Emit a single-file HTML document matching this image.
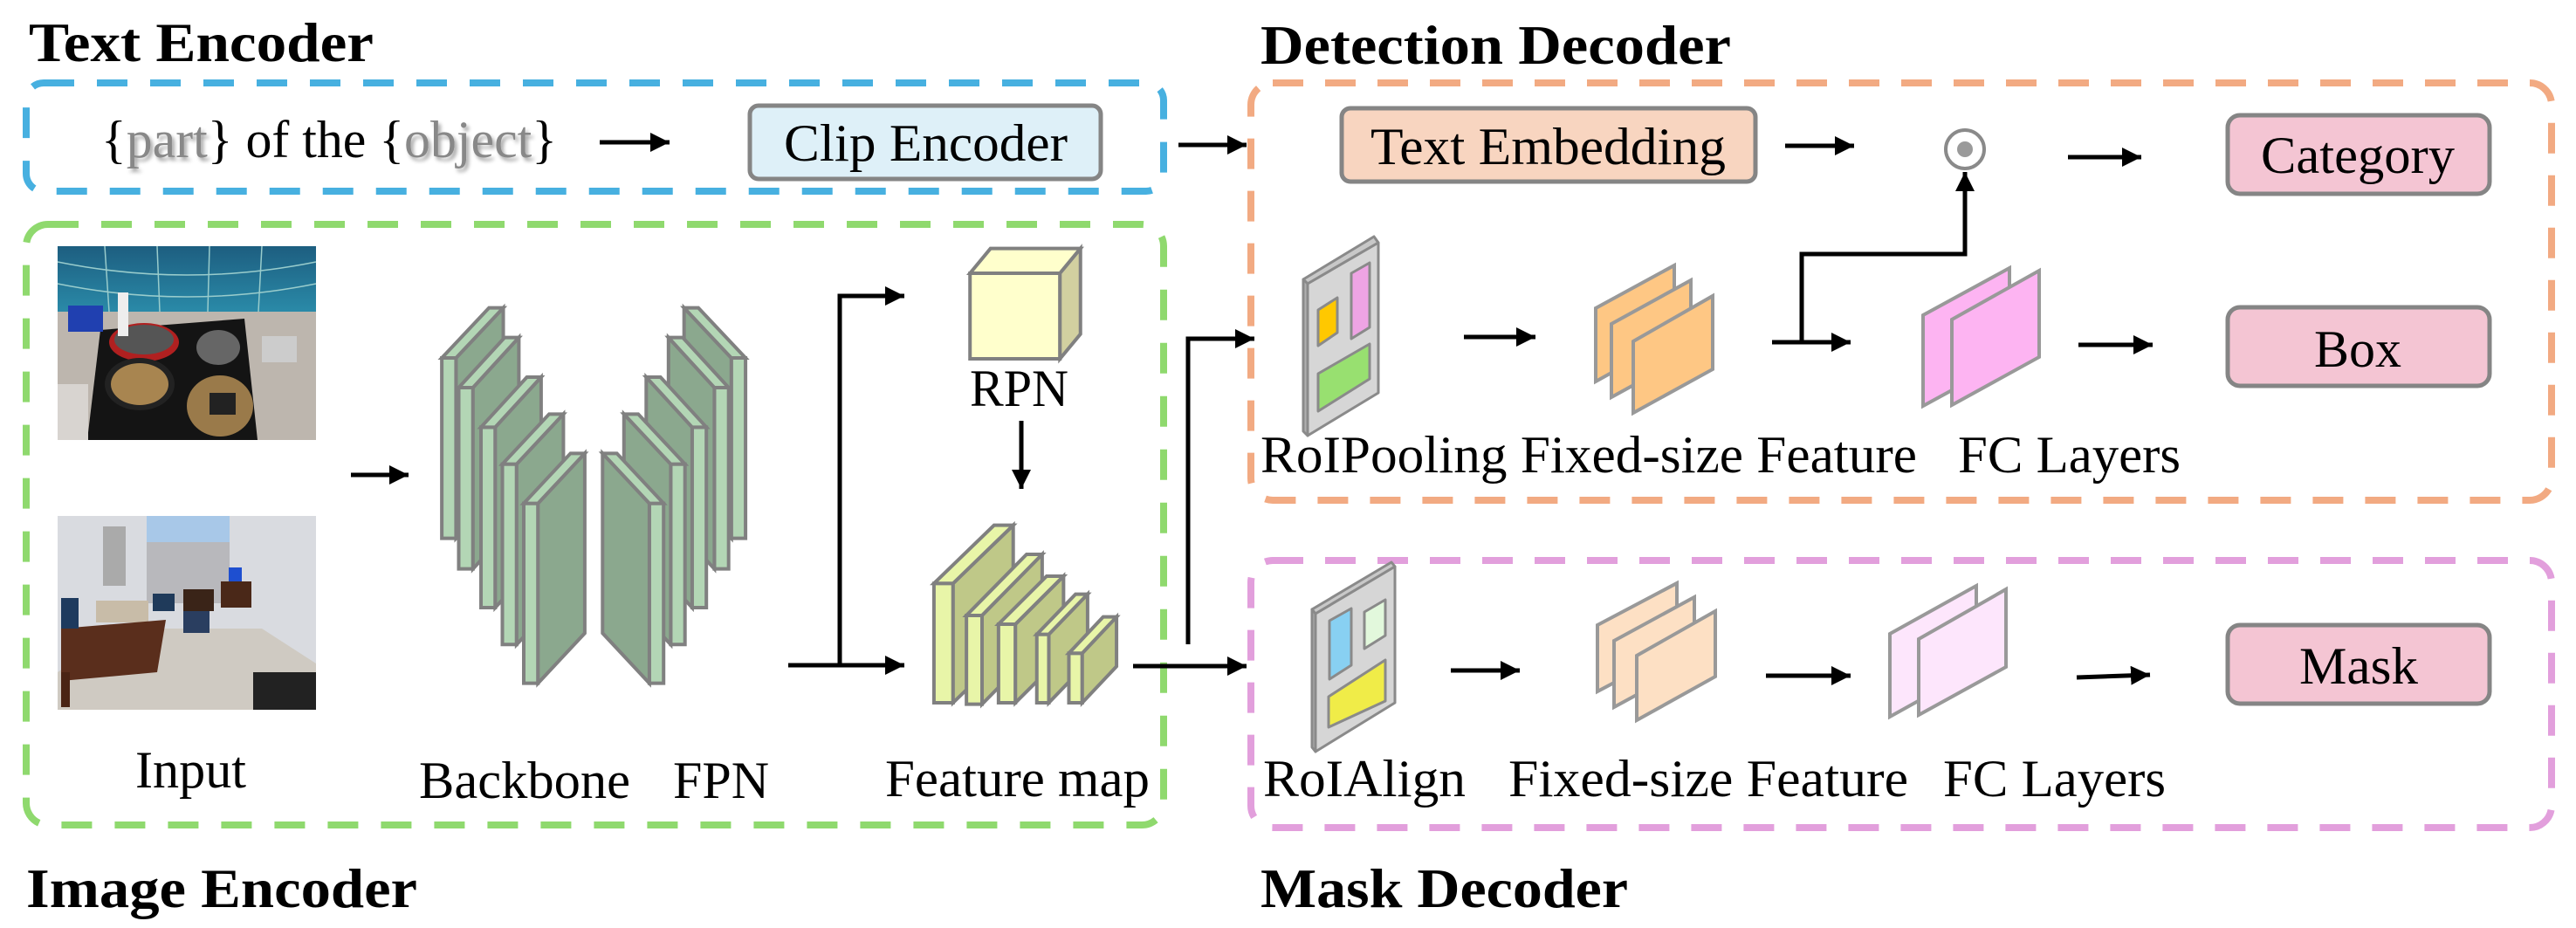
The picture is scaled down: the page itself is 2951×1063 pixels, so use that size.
<!DOCTYPE html>
<html><head><meta charset="utf-8"><style>
html,body{margin:0;padding:0;background:#fff;}
svg{display:block;}
text{font-family:"Liberation Serif",serif;fill:#000;}
.t{font-weight:bold;font-size:64px;}
.l{font-size:60px;}
</style></head><body>
<svg width="2951" height="1063" viewBox="0 0 2951 1063" xmlns="http://www.w3.org/2000/svg">
<defs>
<marker id="ah" markerUnits="userSpaceOnUse" markerWidth="24" markerHeight="24" refX="22" refY="11" orient="auto">
<path d="M0,0 L22,11 L0,22 z" fill="#000"/>
</marker>
<filter id="sh" x="-10%" y="-10%" width="130%" height="130%"><feDropShadow dx="3" dy="4" stdDeviation="2" flood-color="#000" flood-opacity="0.35"/></filter>
<linearGradient id="tile" x1="0" y1="0" x2="0" y2="1"><stop offset="0" stop-color="#1d5e80"/><stop offset="1" stop-color="#2a8aa8"/></linearGradient>
<g id="bb">
<rect x="12" y="210" width="32" height="620" fill="#b3d6b5" stroke="#808080" stroke-width="4" vector-effect="non-scaling-stroke"/>
<polygon points="44,210 150,38 150,658 44,830" fill="#8ba88e" stroke="#808080" stroke-width="4" vector-effect="non-scaling-stroke"/>
<polygon points="12,210 118,38 150,38 44,210" fill="#b3d6b5" stroke="#808080" stroke-width="4" vector-effect="non-scaling-stroke"/>
<rect x="50" y="312" width="32" height="623" fill="#b3d6b5" stroke="#808080" stroke-width="4" vector-effect="non-scaling-stroke"/>
<polygon points="82,312 185,140 185,763 82,935" fill="#8ba88e" stroke="#808080" stroke-width="4" vector-effect="non-scaling-stroke"/>
<polygon points="50,312 153,140 185,140 82,312" fill="#b3d6b5" stroke="#808080" stroke-width="4" vector-effect="non-scaling-stroke"/>
<rect x="100" y="448" width="32" height="620" fill="#b3d6b5" stroke="#808080" stroke-width="4" vector-effect="non-scaling-stroke"/>
<polygon points="132,448 235,276 235,896 132,1068" fill="#8ba88e" stroke="#808080" stroke-width="4" vector-effect="non-scaling-stroke"/>
<polygon points="100,448 203,276 235,276 132,448" fill="#b3d6b5" stroke="#808080" stroke-width="4" vector-effect="non-scaling-stroke"/>
<rect x="148" y="575" width="32" height="620" fill="#b3d6b5" stroke="#808080" stroke-width="4" vector-effect="non-scaling-stroke"/>
<polygon points="180,575 285,403 285,1023 180,1195" fill="#8ba88e" stroke="#808080" stroke-width="4" vector-effect="non-scaling-stroke"/>
<polygon points="148,575 253,403 285,403 180,575" fill="#b3d6b5" stroke="#808080" stroke-width="4" vector-effect="non-scaling-stroke"/>
<rect x="196" y="710" width="32" height="618" fill="#b3d6b5" stroke="#808080" stroke-width="4" vector-effect="non-scaling-stroke"/>
<polygon points="228,710 333,538 333,1156 228,1328" fill="#8ba88e" stroke="#808080" stroke-width="4" vector-effect="non-scaling-stroke"/>
<polygon points="196,710 301,538 333,538 228,710" fill="#b3d6b5" stroke="#808080" stroke-width="4" vector-effect="non-scaling-stroke"/>
</g>
</defs>

<text class="t" x="33" y="70" textLength="395" lengthAdjust="spacingAndGlyphs">Text Encoder</text>
<text class="t" x="30" y="1039" textLength="448" lengthAdjust="spacingAndGlyphs">Image Encoder</text>
<text class="t" x="1444" y="73" textLength="539" lengthAdjust="spacingAndGlyphs">Detection Decoder</text>
<text class="t" x="1444" y="1039" textLength="421" lengthAdjust="spacingAndGlyphs">Mask Decoder</text>

<rect x="30" y="95" width="1303" height="124" rx="20" fill="none" stroke="#47b0e0" stroke-width="8" stroke-dasharray="35 26"/>
<rect x="30" y="257" width="1303" height="688" rx="25" fill="none" stroke="#8fd96e" stroke-width="8" stroke-dasharray="35 26"/>
<rect x="1433" y="95" width="1490" height="478" rx="25" fill="none" stroke="#f2aa82" stroke-width="8" stroke-dasharray="35 25"/>
<rect x="1433" y="642" width="1490" height="306" rx="25" fill="none" stroke="#e29fdc" stroke-width="8" stroke-dasharray="35 25"/>

<text class="l" x="116" y="180" textLength="522" lengthAdjust="spacingAndGlyphs">{<tspan fill="#888" filter="url(#sh)">part</tspan>} of the {<tspan fill="#888" filter="url(#sh)">object</tspan>}</text>
<rect x="859" y="121" width="402" height="84" rx="10" fill="#def0f8" stroke="#858585" stroke-width="5"/>
<text class="l" x="898" y="184" textLength="325" lengthAdjust="spacingAndGlyphs">Clip Encoder</text>

<g>
<rect x="66" y="282" width="296" height="222" fill="#bdb6ae"/>
<rect x="66" y="282" width="296" height="75" fill="url(#tile)"/>
<path d="M66,300 Q214,330 362,300 M66,325 Q214,355 362,325 M120,282 L125,357 M180,282 L183,357 M240,282 L238,357 M300,282 L296,357" stroke="#9cc" stroke-width="1.5" fill="none"/>
<polygon points="115,378 280,365 295,504 100,504" fill="#141414"/>
<ellipse cx="165" cy="392" rx="40" ry="22" fill="#b02020"/>
<ellipse cx="165" cy="389" rx="34" ry="17" fill="#555"/>
<ellipse cx="160" cy="440" rx="40" ry="30" fill="#222"/>
<ellipse cx="160" cy="440" rx="33" ry="24" fill="#a88550"/>
<ellipse cx="252" cy="465" rx="38" ry="35" fill="#9a7a4a"/>
<rect x="240" y="450" width="30" height="25" fill="#222"/>
<ellipse cx="250" cy="398" rx="25" ry="20" fill="#666"/>
<rect x="78" y="350" width="40" height="30" fill="#2040b0"/>
<rect x="135" y="335" width="12" height="50" fill="#eee"/>
<rect x="300" y="385" width="40" height="30" fill="#ccc"/>
<rect x="66" y="440" width="35" height="64" fill="#d8d4d0"/>
</g>
<g>
<rect x="66" y="591" width="296" height="222" fill="#d9dbe0"/>
<rect x="168" y="591" width="95" height="30" fill="#a8c8e8"/>
<rect x="168" y="621" width="95" height="70" fill="#b8b8bc"/>
<rect x="118" y="603" width="26" height="68" fill="#aaa"/>
<polygon points="66,770 66,813 362,813 362,760 300,720 140,720" fill="#cfcac2"/>
<rect x="110" y="688" width="60" height="25" fill="#c8bca8"/>
<polygon points="70,720 190,710 180,770 70,780" fill="#5a2e1c"/>
<rect x="70" y="770" width="10" height="40" fill="#4a2414"/>
<rect x="175" y="680" width="25" height="20" fill="#1f3a5a"/>
<rect x="210" y="695" width="30" height="30" fill="#2a3e60"/>
<rect x="262" y="650" width="15" height="25" fill="#1e4fd0"/>
<rect x="253" y="666" width="35" height="30" fill="#4a2818"/>
<rect x="210" y="675" width="35" height="25" fill="#3a2418"/>
<rect x="290" y="770" width="72" height="43" fill="#222"/>
<rect x="70" y="685" width="20" height="35" fill="#1e3a5e"/>
</g>

<g transform="translate(500,340) scale(0.5102,0.3333)">
<use href="#bb"/>
<use href="#bb" transform="translate(706,0) scale(-1,1)"/>
<rect x="1198" y="-81" width="202" height="294" fill="#ffffcc" stroke="#808080" stroke-width="4" vector-effect="non-scaling-stroke"/>
<polygon points="1198,-81 1244,-166 1446,-166 1400,-81" fill="#ffffcc" stroke="#808080" stroke-width="4" vector-effect="non-scaling-stroke"/>
<polygon points="1400,-81 1446,-166 1446,128 1400,213" fill="#d2d0a0" stroke="#808080" stroke-width="4" vector-effect="non-scaling-stroke"/>
<g stroke="#808080" stroke-width="4">
<rect x="1117" y="985" width="43" height="410" fill="#e8f5a8" vector-effect="non-scaling-stroke"/>
<polygon points="1160,985 1295,785 1295,1195 1160,1395" fill="#bfc888" vector-effect="non-scaling-stroke"/>
<polygon points="1117,985 1252,785 1295,785 1160,985" fill="#e8f5a8" vector-effect="non-scaling-stroke"/>
<rect x="1190" y="1095" width="35" height="305" fill="#e8f5a8" vector-effect="non-scaling-stroke"/>
<polygon points="1225,1095 1360,885 1360,1190 1225,1400" fill="#bfc888" vector-effect="non-scaling-stroke"/>
<polygon points="1190,1095 1325,885 1360,885 1225,1095" fill="#e8f5a8" vector-effect="non-scaling-stroke"/>
<rect x="1262" y="1125" width="38" height="270" fill="#e8f5a8" vector-effect="non-scaling-stroke"/>
<polygon points="1300,1125 1408,960 1408,1230 1300,1395" fill="#bfc888" vector-effect="non-scaling-stroke"/>
<polygon points="1262,1125 1370,960 1408,960 1300,1125" fill="#e8f5a8" vector-effect="non-scaling-stroke"/>
<rect x="1348" y="1160" width="27" height="235" fill="#e8f5a8" vector-effect="non-scaling-stroke"/>
<polygon points="1375,1160 1462,1022 1462,1257 1375,1395" fill="#bfc888" vector-effect="non-scaling-stroke"/>
<polygon points="1348,1160 1435,1022 1462,1022 1375,1160" fill="#e8f5a8" vector-effect="non-scaling-stroke"/>
<rect x="1420" y="1225" width="30" height="170" fill="#e8f5a8" vector-effect="non-scaling-stroke"/>
<polygon points="1450,1225 1527,1100 1527,1270 1450,1395" fill="#bfc888" vector-effect="non-scaling-stroke"/>
<polygon points="1420,1225 1497,1100 1527,1100 1450,1225" fill="#e8f5a8" vector-effect="non-scaling-stroke"/>
</g>
</g>

<text class="l" x="1111" y="465" textLength="113" lengthAdjust="spacingAndGlyphs">RPN</text>
<text class="l" x="155" y="902" textLength="127" lengthAdjust="spacingAndGlyphs">Input</text>
<text class="l" x="480" y="914" textLength="242" lengthAdjust="spacingAndGlyphs">Backbone</text>
<text class="l" x="771" y="914" textLength="110" lengthAdjust="spacingAndGlyphs">FPN</text>
<text class="l" x="1014" y="912" textLength="303" lengthAdjust="spacingAndGlyphs">Feature map</text>

<rect x="1537" y="124" width="474" height="84" rx="10" fill="#f8d5c0" stroke="#858585" stroke-width="5"/>
<text class="l" x="1570" y="188" textLength="407" lengthAdjust="spacingAndGlyphs">Text Embedding</text>
<circle cx="2251" cy="171" r="22" fill="#fff" stroke="#8a8a8a" stroke-width="4"/>
<circle cx="2251" cy="171" r="9" fill="#9a9a9a"/>
<rect x="2552" y="132" width="300" height="90" rx="14" fill="#f4c5d3" stroke="#858585" stroke-width="5"/>
<text class="l" x="2590" y="198" textLength="222" lengthAdjust="spacingAndGlyphs">Category</text>
<rect x="2552" y="352" width="300" height="90" rx="14" fill="#f4c5d3" stroke="#858585" stroke-width="5"/>
<text class="l" x="2651" y="420" textLength="100" lengthAdjust="spacingAndGlyphs">Box</text>
<rect x="2552" y="716" width="300" height="90" rx="14" fill="#f4c5d3" stroke="#858585" stroke-width="5"/>
<text class="l" x="2634" y="783" textLength="136" lengthAdjust="spacingAndGlyphs">Mask</text>

<g stroke="#8a8a8a" stroke-width="3" stroke-linejoin="round">
<polygon points="1493,320 1574,271 1579,278 1498,325" fill="#c8c8c8"/>
<polygon points="1493,320 1498,325 1498,499 1493,494" fill="#b0b0b0"/>
<polygon points="1498,325 1579,278 1579,450 1498,499" fill="#d6d6d6"/>
<polygon points="1510,355 1532,341 1532,381 1510,396" fill="#ffc800"/>
<polygon points="1548,313 1569,301 1569,375 1548,388" fill="#eea4e4"/>
<polygon points="1510,428 1569,394 1569,434 1510,471" fill="#98e070"/>
</g>
<g stroke="#8a8a8a" stroke-width="3" stroke-linejoin="round">
<polygon points="1503,698 1594,644 1598,649 1507,703" fill="#c8c8c8"/>
<polygon points="1503,698 1507,703 1507,861 1503,856" fill="#b0b0b0"/>
<polygon points="1507,703 1598,649 1598,805 1507,861" fill="#d6d6d6"/>
<polygon points="1523,711 1548,697 1548,762 1523,778" fill="#88d0f2"/>
<polygon points="1563,701 1587,687 1587,728 1563,743" fill="#e2f8dc"/>
<polygon points="1522,798 1587,756 1587,803 1522,833" fill="#f0ec48"/>
</g>

<g stroke="#999" stroke-width="4" stroke-linejoin="miter">
<polygon points="1828,353 1918,304 1918,387 1828,437" fill="#fec784"/>
<polygon points="1846,371 1937,321 1937,405 1846,455" fill="#fec784"/>
<polygon points="1871,391 1962,339 1962,423 1871,473" fill="#fec784"/>
<polygon points="2203,361 2302,307 2302,411 2203,465" fill="#fdb4f2"/>
<polygon points="2236,366 2336,310 2336,409 2236,464" fill="#fdb4f2"/>
<polygon points="1830,716 1921,668 1921,744 1830,792" fill="#fde0c4"/>
<polygon points="1849,734 1941,684 1941,760 1849,810" fill="#fde0c4"/>
<polygon points="1875,751 1965,700 1965,775 1875,825" fill="#fde0c4"/>
<polygon points="2165,726 2264,671 2264,766 2165,821" fill="#fde6fc"/>
<polygon points="2198,732 2298,675 2298,764 2198,819" fill="#fde6fc"/>
</g>

<text class="l" x="1444" y="541" textLength="752" lengthAdjust="spacingAndGlyphs">RoIPooling Fixed-size Feature</text>
<text class="l" x="2243" y="541" textLength="255" lengthAdjust="spacingAndGlyphs">FC Layers</text>
<text class="l" x="1447" y="912" textLength="232" lengthAdjust="spacingAndGlyphs">RoIAlign</text>
<text class="l" x="1728" y="912" textLength="458" lengthAdjust="spacingAndGlyphs">Fixed-size Feature</text>
<text class="l" x="2226" y="912" textLength="255" lengthAdjust="spacingAndGlyphs">FC Layers</text>

<g stroke="#000" stroke-width="5" fill="none">
<line x1="687" y1="163" x2="767" y2="163" marker-end="url(#ah)"/>
<line x1="1350" y1="166" x2="1428" y2="166" marker-end="url(#ah)"/>
<line x1="402" y1="544" x2="468" y2="544" marker-end="url(#ah)"/>
<line x1="903" y1="762" x2="1036" y2="762" marker-end="url(#ah)"/>
<polyline points="962,762 962,339 1036,339" marker-end="url(#ah)"/>
<line x1="1170" y1="482" x2="1170" y2="560" marker-end="url(#ah)"/>
<line x1="1298" y1="763" x2="1428" y2="763" marker-end="url(#ah)"/>
<polyline points="1361,738 1361,388 1437,388" marker-end="url(#ah)"/>
<line x1="2045" y1="167" x2="2124" y2="167" marker-end="url(#ah)"/>
<line x1="2369" y1="180" x2="2453" y2="180" marker-end="url(#ah)"/>
<line x1="1677" y1="386" x2="1759" y2="386" marker-end="url(#ah)"/>
<line x1="2030" y1="392" x2="2120" y2="392" marker-end="url(#ah)"/>
<polyline points="2064,392 2064,291 2251,291 2251,197" marker-end="url(#ah)"/>
<line x1="2381" y1="395" x2="2466" y2="395" marker-end="url(#ah)"/>
<line x1="1662" y1="768" x2="1741" y2="768" marker-end="url(#ah)"/>
<line x1="2023" y1="774" x2="2120" y2="774" marker-end="url(#ah)"/>
<line x1="2379" y1="776" x2="2463" y2="773" marker-end="url(#ah)"/>
</g>
</svg>
</body></html>
